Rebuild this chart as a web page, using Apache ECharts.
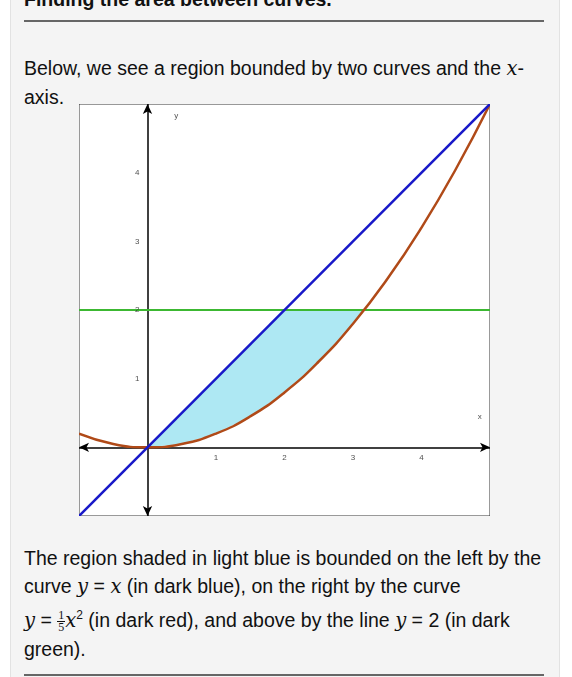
<!DOCTYPE html>
<html><head><meta charset="utf-8">
<script src="https://cdn.jsdelivr.net/npm/echarts@6/dist/echarts.min.js"></script>
<style>
body{margin:0;background:#fff;font-family:"Liberation Sans",Arial,sans-serif;color:#111;}
#card{position:absolute;left:10px;top:-20px;width:548px;height:720px;background:#f4f4f4;border:1px solid #e2e2e2;}
.t{position:absolute;left:24px;font-size:19.5px;line-height:28px;width:530px;}
i{font-family:"DejaVu Serif","Liberation Serif",serif;font-style:italic;}
.fr{display:inline-block;vertical-align:middle;text-align:center;font-size:12px;line-height:11px;font-family:"Liberation Serif",serif;}
#c{position:absolute;left:79px;top:104px;width:411px;height:412px;background:#fff;}
</style></head><body>
<div id="card"></div>
<div class="t" style="top:-15px;font-weight:bold;">Finding the area between curves.</div>
<div style="position:absolute;left:24px;top:20px;width:520px;height:2px;background:#666"></div>
<div class="t" style="top:54px;">Below, we see a region bounded by two curves and the <i>x</i>-<br>axis.</div>
<div id="c"></div>
<div class="t" style="top:544px;line-height:28px;">The region shaded in light blue is bounded on the left by the curve <i>y</i> = <i>x</i> (in dark blue), on the right by the curve<br><i>y</i> = <span class="fr">1<br><span style="border-top:1px solid #111;display:inline-block;padding:0 1px">5</span></span><i>x</i><sup style="font-size:12px">2</sup> (in dark red), and above by the line <i>y</i> = 2 (in dark green).</div>
<div style="position:absolute;left:24px;top:674px;width:520px;height:2px;background:#666"></div>
<script>
const lineX = [[-1,-1],[5,5]];
const parabola = [[-1,0.2],[-0.5,0.05],[0,0],[0.5,0.05],[1,0.2],[1.5,0.45],[2,0.8],[2.5,1.25],[3,1.8],[3.5,2.45],[4,3.2],[4.5,4.05],[5,5]];
const lineY2 = [[-1,2],[5,2]];
const region = [[0,0],[2,2],[3.162,2],[3,1.8],[2.5,1.25],[2,0.8],[1.5,0.45],[1,0.2],[0.5,0.05],[0,0]];
const ticks = [1,2,3,4];
const ch = echarts.init(document.getElementById('c'));
const ax = ()=>({type:'value',min:-1,max:5,interval:1,
  axisLine:{onZero:true,symbol:['arrow','arrow'],symbolSize:[7,10],lineStyle:{color:'#000',width:1.5}},
  axisTick:{show:false},splitLine:{show:false},axisLabel:{show:false}});
const lab = {fontSize:8,color:'#222'};
ch.setOption({animation:false,
 grid:{left:0,right:0,top:0,bottom:0,containLabel:false,outerBoundsMode:'none',show:true,borderColor:'#333',borderWidth:1},
 xAxis:ax(), yAxis:ax(),
 series:[
  {type:'custom',renderItem:(p,api)=>({type:'polygon',shape:{points:region.map(d=>api.coord(d))},style:{fill:'#aee8f3'}}),data:[0],z:1},
  {type:'line',data:lineY2,symbol:'none',lineStyle:{color:'#3cb832',width:2},z:3},
  {type:'line',data:parabola,smooth:true,symbol:'none',lineStyle:{color:'#b04a18',width:2.5},z:4},
  {type:'line',data:lineX,symbol:'none',lineStyle:{color:'#1818c8',width:2.5},z:5},
  {type:'scatter',symbolSize:0,data:ticks.map(v=>[v,0]),label:{show:true,position:'bottom',distance:6,formatter:p=>String(p.value[0]),...lab},z:6},
  {type:'scatter',symbolSize:0,data:ticks.map(v=>[0,v]),label:{show:true,position:'left',distance:8,formatter:p=>String(p.value[1]),...lab},z:6},
  {type:'scatter',symbolSize:0,data:[[4.85,0.45]],label:{show:true,position:'inside',formatter:'x',...lab},z:6},
  {type:'scatter',symbolSize:0,data:[[0.42,4.83]],label:{show:true,position:'inside',formatter:'y',...lab},z:6}
 ]});
</script></body></html>
